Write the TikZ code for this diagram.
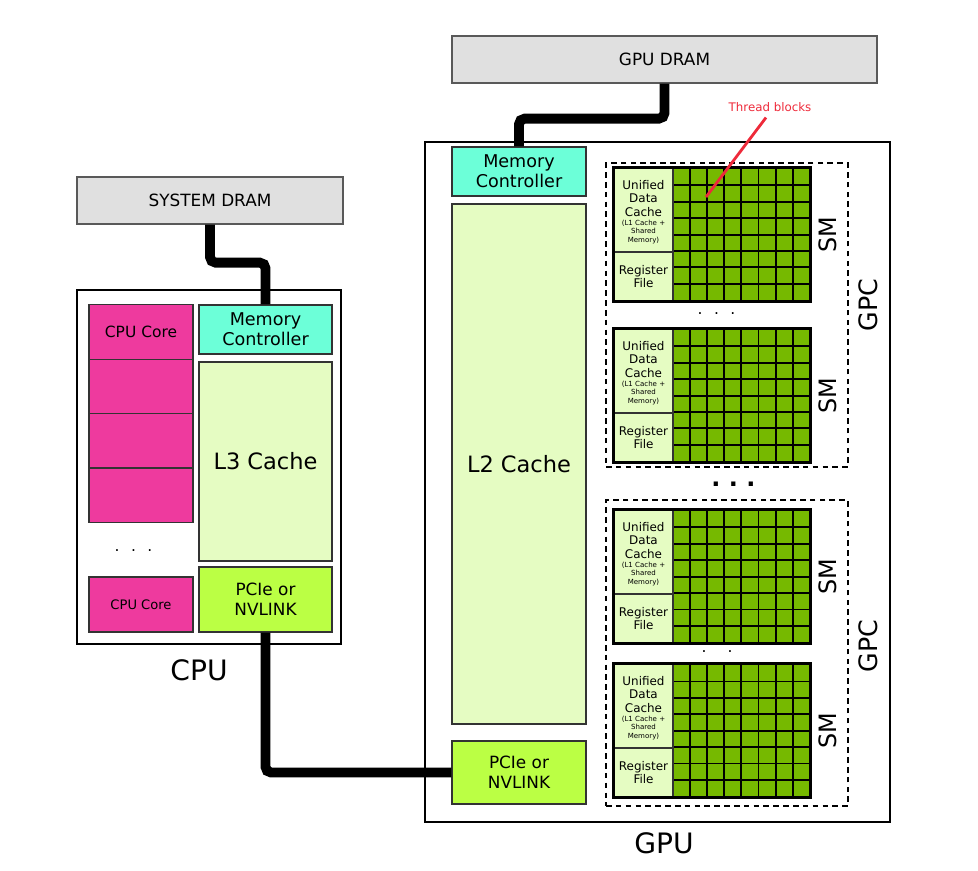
\documentclass[tikz,border=0pt]{standalone}
\usepackage{fontspec}
\setmainfont{DejaVu Sans}
\usepackage{xcolor}
\usepackage{tikz}
\usetikzlibrary{positioning}
\definecolor{dramgray}{HTML}{E0E0E0}
\definecolor{coremag}{HTML}{EE3A9E}
\definecolor{mcteal}{HTML}{6CFFD8}
\definecolor{cachegreen}{HTML}{E5FCC2}
\definecolor{pcielime}{HTML}{BBFF44}
\definecolor{smgreen}{HTML}{76B900}
\definecolor{threadred}{HTML}{EE2A3A}
\tikzset{
  unitbox/.style={draw=black!80, line width=0.9pt, inner sep=0pt, align=center},
  drambox/.style={unitbox, fill=dramgray, draw=black!65, minimum height=1.175cm,
    font=\fontsize{12}{14}\selectfont},
  corebox/.style={unitbox, fill=coremag, minimum width=2.6cm, minimum height=1.36cm,
    font=\fontsize{11}{13}\selectfont},
  mcbox/.style={unitbox, fill=mcteal, minimum width=3.33cm, minimum height=1.225cm,
    font=\fontsize{12.5}{14}\selectfont},
  cachebox/.style={unitbox, fill=cachegreen, minimum width=3.33cm,
    font=\fontsize{16}{19}\selectfont},
  pciebox/.style={unitbox, fill=pcielime, minimum width=3.33cm,
    font=\fontsize{12}{14.5}\selectfont},
  chipbox/.style={draw=black, line width=1pt, inner sep=0pt},
  gpcbox/.style={draw=black, dashed, dash pattern=on 4pt off 3pt, line width=1pt,
    inner sep=0pt, minimum width=6.05cm},
  smbox/.style={fill=smgreen, inner sep=0pt, minimum width=4.9cm, minimum height=3.325cm},
  smedge/.style={draw=black, line width=2.3pt},
  gridline/.style={black, line width=1.3pt},
  l1box/.style={unitbox, fill=cachegreen, line width=0.8pt, minimum width=1.475cm,
    font=\fontsize{8.5}{9.7}\selectfont},
  l1note/.style={align=center, inner sep=0pt, font=\fontsize{5}{6.2}\selectfont},
  biglbl/.style={font=\fontsize{20}{22}\selectfont},
  sidelbl/.style={rotate=90, font=\fontsize{18}{20}\selectfont},
  dotlbl/.style={inner sep=0pt, font=\fontsize{11}{12}\selectfont},
  bus/.style={line width=7pt, rounded corners=4pt},
}

\begin{document}
\begin{tikzpicture}[x=0.025cm, y=-0.025cm]
  \useasboundingbox (0,0) rectangle (978,870);

  % memory chips
  \node[drambox, minimum width=6.65cm] at (210,200.5) (sysdram) {SYSTEM DRAM};
  \node[drambox, minimum width=10.625cm] at (664.5,59.5) (gpudram) {GPU DRAM};

  % CPU side
  \node[chipbox, minimum width=6.6cm, minimum height=8.85cm] at (209,467) (cpu) {};
  \node[biglbl] at (199,670) (cpulbl) {CPU};
  \node[corebox] at (141,332) (core1) {CPU Core};
  \node[corebox, below=-0.9pt of core1] (core2) {};
  \node[corebox, below=-0.9pt of core2] (core3) {};
  \node[corebox, below=-0.9pt of core3] (core4) {};
  \node[dotlbl] at (133.5,551) (coredots) {.\hspace{8.2pt}.\hspace{8.2pt}.};
  \node[corebox, minimum height=1.375cm, font=\fontsize{9.3}{11}\selectfont]
    at (141,604.5) (coren) {CPU Core};
  \node[mcbox] at (265.5,329.5) (cpumc) {Memory\\Controller};
  \node[cachebox, minimum height=4.975cm] at (265.5,461.5) (l3) {L3 Cache};
  \node[pciebox, minimum height=1.625cm] at (265.5,599.5) (cpupcie) {PCIe or\\NVLINK};

  % GPU side
  \node[chipbox, minimum width=11.625cm, minimum height=17cm] at (657.5,482) (gpu) {};
  \node[biglbl] at (664,843) (gpulbl) {GPU};
  \node[mcbox, minimum width=3.35cm] at (519,171.5) (gpumc) {Memory\\Controller};
  \node[cachebox, minimum width=3.35cm, minimum height=13cm] at (519,464) (l2) {L2 Cache};
  \node[pciebox, minimum width=3.35cm, minimum height=1.575cm] at (519,772.5) (gpupcie)
    {PCIe or\\NVLINK};

  \node[gpcbox, minimum height=7.6cm] at (727,315) (gpc1) {};
  \node[gpcbox, minimum height=7.65cm] at (727,653) (gpc2) {};
  \node[sidelbl] at (868,305) (gpclbl1) {GPC};
  \node[sidelbl] at (868,646) (gpclbl2) {GPC};

  % streaming multiprocessors
  \foreach \n/\t in {1/168, 2/329, 3/510, 4/664} {
    \node[smbox] at (712,{\t+66.5}) (sm\n) {};
    \foreach \c in {1,...,7}
      \draw[gridline] ({673+\c*17.1},\t) -- ++(0,133);
    \foreach \r in {1,...,7}
      \draw[gridline] (673,{\t+1+\r*16.4}) -- ++(137,0);
    \node[l1box, minimum height=2.1cm] at (643.5,{\t+42}) (l1\n) {};
    \node[l1box, draw=none, fill=none] at (643.5,{\t+30.5}) (l1lbl\n) {Unified\\Data\\Cache};
    \node[l1note] at (643.5,{\t+64}) (l1note\n) {(L1 Cache +\\Shared\\Memory)};
    \node[l1box, minimum height=1.225cm] at (643.5,{\t+108.5}) (rf\n) {Register\\File};
    \draw[smedge] (sm\n.north west) rectangle (sm\n.south east);
    \node[sidelbl, font=\fontsize{17}{19}\selectfont] at (828,{\t+67}) (smlbl\n) {SM};
  }
  \node[dotlbl] at (716.5,314) (smdots1) {.\hspace{8.2pt}.\hspace{8.2pt}.};
  \node[dotlbl, font=\fontsize{17}{18}\bfseries] at (733.5,484) (gpcdots)
    {.\hspace{6pt}.\hspace{6pt}.};
  \node[dotlbl] at (717,652) (smdots2) {.\hspace{15pt}.};

  % buses
  \draw[bus] (sysdram.south) -- ++(0,38) -| (cpumc.north);
  \draw[bus] (gpudram.south) -- ++(0,35) -| (gpumc.north);
  \draw[bus] (cpupcie.south) |- (gpupcie.west);

  % annotation
  \node[text=threadred, font=\fontsize{8.4}{10}\selectfont] at (770,107) (threadlbl)
    {Thread blocks};
  \coordinate (threadtip) at (706,197);
  \draw[threadred, line width=2pt] (threadlbl.south) ++(-4,1) -- (threadtip);
\end{tikzpicture}
\end{document}
